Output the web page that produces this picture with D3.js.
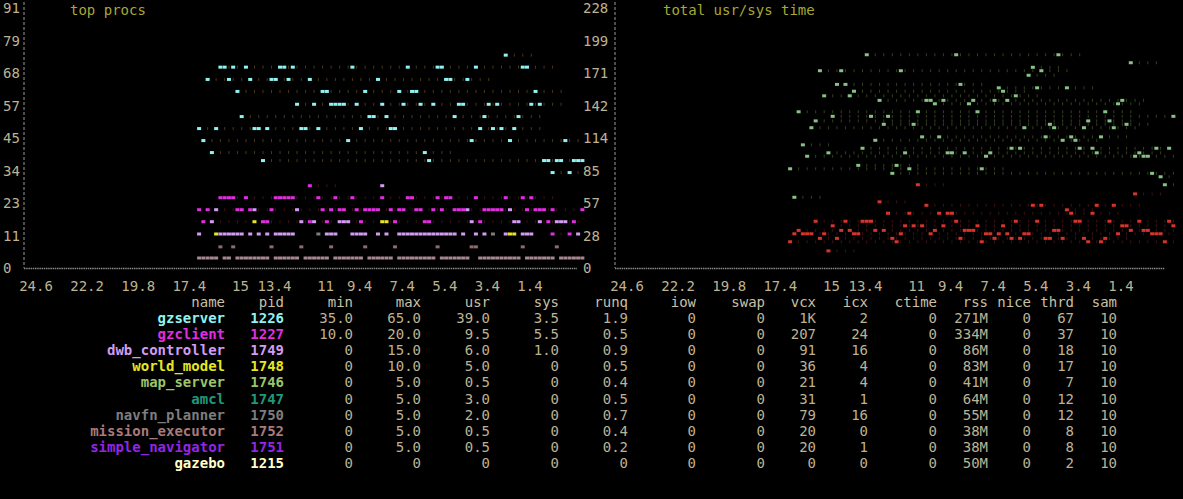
<!DOCTYPE html>
<html><head><meta charset="utf-8">
<script src="https://cdn.jsdelivr.net/npm/d3@7"></script>
<style>body{margin:0;background:#000}svg{display:block}</style>
</head><body><svg id="c" width="1183" height="499"></svg>
<script>
// ---- data ----
const xTicks = [24.6,22.2,19.8,17.4,15,13.4,11,9.4,7.4,5.4,3.4,1.4];
const yTicksLeft = [91,79,68,57,45,34,23,11,0];
const yTicksRight = [228,199,171,142,114,85,57,28,0];
const sampleStart = 16.94, sampleStep = 0.2; // seconds ago of sample index 0, interval

// left chart: [sample index, percent]
const gzserverPts = [[72,74.5],
 [5,70.3],[6,70.3],[8,70.3],[11,70.3],[19,70.3],[20,70.3],[22,70.3],[36,70.3],[49,70.3],[56,70.3],[57,70.3],[65,70.3],[76,70.3],[77,70.3],
 [2,66],[7,66],[12,66],[17,66],[18,66],[21,66],[26,66],[42,66],[58,66],[59,66],[63,66],
 [9,61.8],[29,61.8],[30,61.8],[39,61.8],[47,61.8],[50,61.8],[51,61.8],[79,61.8],
 [23,57.3],[27,57.3],[31,57.3],[32,57.3],[33,57.3],[34,57.3],[37,57.3],[43,57.3],[48,57.3],[52,57.3],[55,57.3],[61,57.3],[62,57.3],[68,57.3],[70,57.3],[78,57.3],[80,57.3],
 [10,53],[40,53],[41,53],[44,53],[60,53],[67,53],[75,53],
 [0,48.8],[4,48.8],[13,48.8],[14,48.8],[16,48.8],[24,48.8],[25,48.8],[28,48.8],[38,48.8],[45,48.8],[46,48.8],[66,48.8],[69,48.8],[71,48.8],[74,48.8],
 [1,44.6],[35,44.6],[64,44.6],[73,44.6],[86,44.6],
 [3,40.4],[53,40.4],
 [15,37.6],[54,37.6],[81,37.6],[82,37.6],[84,37.6],[85,37.6],[88,37.6],[89,37.6],[90,37.6],
 [83,33.4],[87,33.4]];
const gzclient288 = [26];
const gzclient246 = [5,6,7,8,11,18,19,20,21,22,28,32,36,43,49,50,56,58,59,65,72,76,78];
const gzclient204 = [0,2,9,10,12,17,29,31,33,34,37,39,40,41,42,45,47,48,51,52,55,57,60,61,62,67,68,69,70,71,77,79,80,81,83,90];
const gzclient162 = [1,15,16,26,30,38,46,53,54,66,82,88];
const gzclient119 = [83,87];
const dwb288 = [43];
const dwb204 = [4,13,23,63,73];
const dwb162 = [3,24,27,33,34,35,64,74,75,80,84,85,86];
const dwb119 = [0,5,6,7,8,9,10,12,14,16,18,19,20,21,22,30,31,32,36,37,38,39,42,44,47,48,49,50,51,52,53,54,55,56,57,58,59,60,62,65,67,72,76,77,78,89];
const world162 = [13,43,44];
const world119 = [4,73,74];
const navfn119 = [28,69];
const mission74 = [5,8,17,24,31,39,46,56,64,65,76,84];
const mission35 = [0,1,2,3,4,6,7,9,10,11,12,13,14,15,16,18,19,20,21,22,23,25,26,27,28,29,30,32,33,34,35,36,37,38,40,41,42,43,44,45,47,48,49,50,51,52,53,54,55,57,58,59,60,61,62,63,66,67,68,69,70,71,72,73,74,75,77,78,79,80,81,82,83,85,86,87,88,89,90];

// right chart: total usr and sys per sample index
const usrTotal = [87,62,137,108,98,123,129,173,151,101,133,161,173,161,151,155,90,105,187,133,112,147,126,133,83,90,173,101,87,126,137,115,147,147,144,115,147,101,101,187,161,101,144,147,137,87,98,101,147,158,155,147,105,151,105,123,169,176,158,173,115,126,123,187,112,158,115,112,105,123,129,105,101,115,137,129,123,144,147,126,180,98,101,98,98,83,105,80,73,105,133];
const sysTotal = [23,30,33,30,30,30,41,26,30,15,37,26,33,41,33,30,30,41,41,41,33,58,33,48,26,23,30,37,48,37,73,37,55,30,33,48,37,48,48,41,26,33,33,33,37,23,30,30,26,30,37,30,26,41,26,30,30,55,41,55,26,26,33,33,26,51,48,41,41,26,23,48,55,23,26,41,55,30,37,37,33,65,41,33,33,30,30,30,23,41,37];

// table
const columns = ["name","pid","min","max","usr","sys","runq","iow","swap","vcx","icx","ctime","rss","nice","thrd","sam"];
const procNames = ["gzserver","gzclient","dwb_controller","world_model","map_server","amcl","navfn_planner","mission_executor","simple_navigator","gazebo"];
const procColors = ["#8ff3f3","#e02ee0","#d39cf2","#e6e622","#9cc46a","#1f9a78","#7d7d7d","#a87a7a","#9424e6","#ffffc8"];
const tableRows = [
 ["1226","35.0","65.0","39.0","3.5","1.9","0","0","1K","2","0","271M","0","67","10"],
 ["1227","10.0","20.0","9.5","5.5","0.5","0","0","207","24","0","334M","0","37","10"],
 ["1749","0","15.0","6.0","1.0","0.9","0","0","91","16","0","86M","0","18","10"],
 ["1748","0","10.0","5.0","0","0.5","0","0","36","4","0","83M","0","17","10"],
 ["1746","0","5.0","0.5","0","0.4","0","0","21","4","0","41M","0","7","10"],
 ["1747","0","5.0","3.0","0","0.5","0","0","31","1","0","64M","0","12","10"],
 ["1750","0","5.0","2.0","0","0.7","0","0","79","16","0","55M","0","12","10"],
 ["1752","0","5.0","0.5","0","0.4","0","0","20","0","0","38M","0","8","10"],
 ["1751","0","5.0","0.5","0","0.2","0","0","20","1","0","38M","0","8","10"],
 ["1215","0","0","0","0","0","0","0","0","0","0","50M","0","2","10"]];

// ---- drawing ----
const svg = d3.select("#c");
svg.append("rect").attr("width",1183).attr("height",499).attr("fill","#000");
const FONT = "'DejaVu Sans Mono', monospace";
const txtCol = "#bdb393";
const tOf = i => sampleStart - i*sampleStep;

function chart(ox, axisX, axisEnd, maxV, yTicks, title, titleX, labelX) {
  const g = svg.append("g");
  const x = d3.scaleLinear().domain([24.6,1.4]).range([ox+36, ox+530]);
  const y = d3.scaleLinear().domain([0,maxV]).range([268,8]);
  g.append("line").attr("x1",axisX).attr("x2",axisX).attr("y1",2).attr("y2",268)
   .attr("stroke","#999").attr("stroke-dasharray","3,2");
  g.append("line").attr("x1",axisX).attr("x2",axisEnd).attr("y1",268.5).attr("y2",268.5)
   .attr("stroke","#888").attr("stroke-width",1.5).attr("stroke-dasharray","1.5,0.7");
  yTicks.forEach((v,k)=>{
    g.append("text").attr("x",labelX).attr("y",8+k*32.5).attr("dy","0.36em")
     .attr("fill",txtCol).attr("font-family",FONT).attr("font-size",14).text(v);
  });
  xTicks.forEach(v=>{
    g.append("text").attr("x",x(v)).attr("y",286).attr("text-anchor","middle").attr("dy","0.36em")
     .attr("fill",txtCol).attr("font-family",FONT).attr("font-size",14).text(v);
  });
  g.append("text").attr("x",titleX).attr("y",10).attr("dy","0.36em").attr("fill","#a8a832")
   .attr("font-family",FONT).attr("font-size",14).text(title);
  return {g,x,y};
}

function trails(c, pts, color) {
  const levels = d3.group(pts, d=>d[1]);
  levels.forEach((arr,v)=>{
    const idx = arr.map(d=>d[0]);
    const lo = d3.min(idx), hi = Math.min(90, d3.max(idx)+6);
    for (let i=lo;i<=hi;i+=2) {
      if (idx.includes(i)) continue;
      c.g.append("rect").attr("x",c.x(tOf(i))-0.5).attr("y",c.y(v)-1.5).attr("width",1).attr("height",3).attr("fill",color);
    }
  });
}
function dots(c, pts, color) {
  c.g.selectAll(null).data(pts).join("rect")
   .attr("x",d=>c.x(tOf(d[0]))-2).attr("y",d=>c.y(d[1])-1.5)
   .attr("width",4).attr("height",3).attr("fill",color);
}
const lv = (arr,v)=>arr.map(i=>[i,v]);

const L = chart(0, 24, 577, 91, yTicksLeft, "top procs", 70, 3);
const R = chart(591, 615, 1165, 228, yTicksRight, "total usr/sys time", 663, 583);

const gzc = [].concat(lv(gzclient288,28.8),lv(gzclient246,24.6),lv(gzclient204,20.4),lv(gzclient162,16.2),lv(gzclient119,11.9));
const dwb = [].concat(lv(dwb288,28.8),lv(dwb204,20.4),lv(dwb162,16.2),lv(dwb119,11.9));
trails(L, gzserverPts, "#4a3816");
trails(L, gzc, "#3a1414");
dots(L, lv(mission35,3.5), "#a88890");
dots(L, lv(mission74,7.4), "#8f6a6a");
dots(L, lv(navfn119,11.9), "#7d7d7d");
dots(L, dwb, procColors[2]);
dots(L, gzc, procColors[1]);
dots(L, [].concat(lv(world162,16.2),lv(world119,11.9)), procColors[3]);
dots(L, gzserverPts, procColors[0]);

const usrPts = usrTotal.map((v,i)=>[i,v]);
const sysPts = sysTotal.map((v,i)=>[i,v]);
trails(R, usrPts, "#34401e");
trails(R, sysPts, "#3e1212");
dots(R, usrPts, "#86c283");
dots(R, sysPts, "#d8342c");

// table
const colRight = [225,284,353,421,490,559,628,696,765,816,868,937,988,1031,1074,1117];
const tg = svg.append("g").attr("font-family",FONT).attr("font-size",14);
columns.forEach((c,j)=>tg.append("text").attr("x",colRight[j]).attr("y",302).attr("dy","0.36em")
  .attr("text-anchor","end").attr("fill","#c9c1a6").text(c));
procNames.forEach((n,r)=>{
  const yy = 318 + r*16.1;
  tg.append("text").attr("x",colRight[0]).attr("y",yy).attr("dy","0.36em").attr("text-anchor","end")
    .attr("fill",procColors[r]).attr("font-weight","bold").text(n);
  tableRows[r].forEach((v,j)=>{
    tg.append("text").attr("x",colRight[j+1]).attr("y",yy).attr("dy","0.36em").attr("text-anchor","end")
      .attr("fill", j===0 ? procColors[r] : txtCol).attr("font-weight", j===0?"bold":"normal").text(v);
  });
});
</script></body></html>
